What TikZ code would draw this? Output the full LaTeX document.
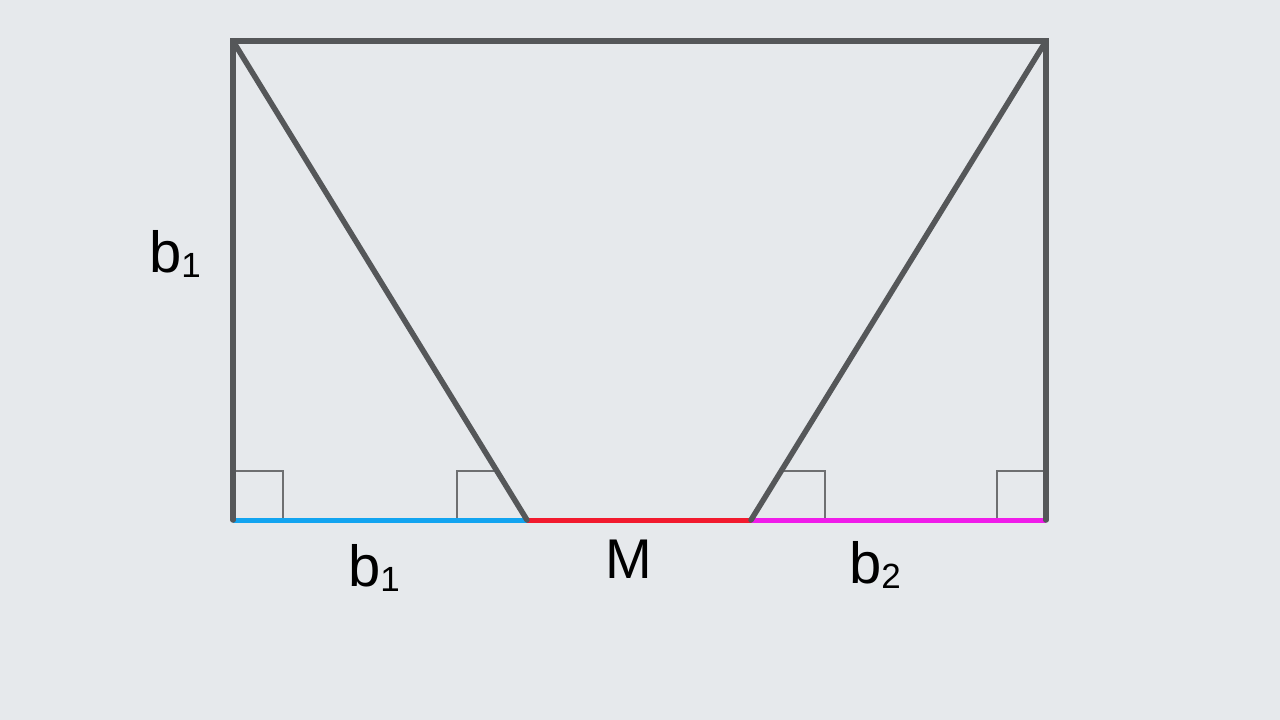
\documentclass[tikz,border=0pt]{standalone}
\usepackage{fontspec}
\setmainfont{Liberation Sans}
\definecolor{bgc}{HTML}{E6E9EC}
\definecolor{edgec}{HTML}{555759}
\definecolor{markc}{HTML}{6E6F71}
\definecolor{bluec}{HTML}{12A4F0}
\definecolor{redc}{HTML}{F21A2E}
\definecolor{magc}{HTML}{F01CEA}
\newcommand{\lbl}[2]{{\fontsize{58}{64}\selectfont #1}{\fontsize{35}{36}\selectfont\raisebox{-5.5pt}{#2}}}
\begin{document}
\begin{tikzpicture}[x=1pt,y=-1pt,
  edge/.style={draw=edgec,line width=5.5pt,line cap=round,line join=miter},
  marker/.style={draw=markc,line width=1.4pt},
  seg/.style={line width=5pt},
  lab/.style={anchor=base west,inner sep=0pt,text=black}]
\fill[bgc] (0,0) rectangle (1280,720);
\useasboundingbox (0,0) rectangle (1280,720);
\coordinate (TL) at (233,41);
\coordinate (TR) at (1046,41);
\coordinate (BL) at (233,520);
\coordinate (BR) at (1046,520);
\coordinate (P) at (527,520);
\coordinate (Q) at (751,520);
% right angle markers
\draw[marker] (233,471) -- (283,471) -- (283,520);
\draw[marker] (457,520) -- (457,471) -- (497,471);
\draw[marker] (781,471) -- (825,471) -- (825,520);
\draw[marker] (997,520) -- (997,471) -- (1046,471);
% bottom coloured segments
\draw[seg,draw=bluec] (BL) -- (P);
\draw[seg,draw=redc] (P) -- (Q);
\draw[seg,draw=magc] (Q) -- (BR);
% frame and diagonals
\draw[edge] (BL) -- (TL) -- (TR) -- (BR);
\draw[edge] (TL) -- (P);
\draw[edge] (TR) -- (Q);
% labels
\node[lab] (lb1) at (149,272) {\lbl{b}{1}};
\node[lab] (bb1) at (348,586) {\lbl{b}{1}};
\node[lab] (bm) at (605,578) {\fontsize{56}{62}\selectfont M};
\node[lab] (bb2) at (849,583) {\lbl{b}{2}};
\end{tikzpicture}
\end{document}
